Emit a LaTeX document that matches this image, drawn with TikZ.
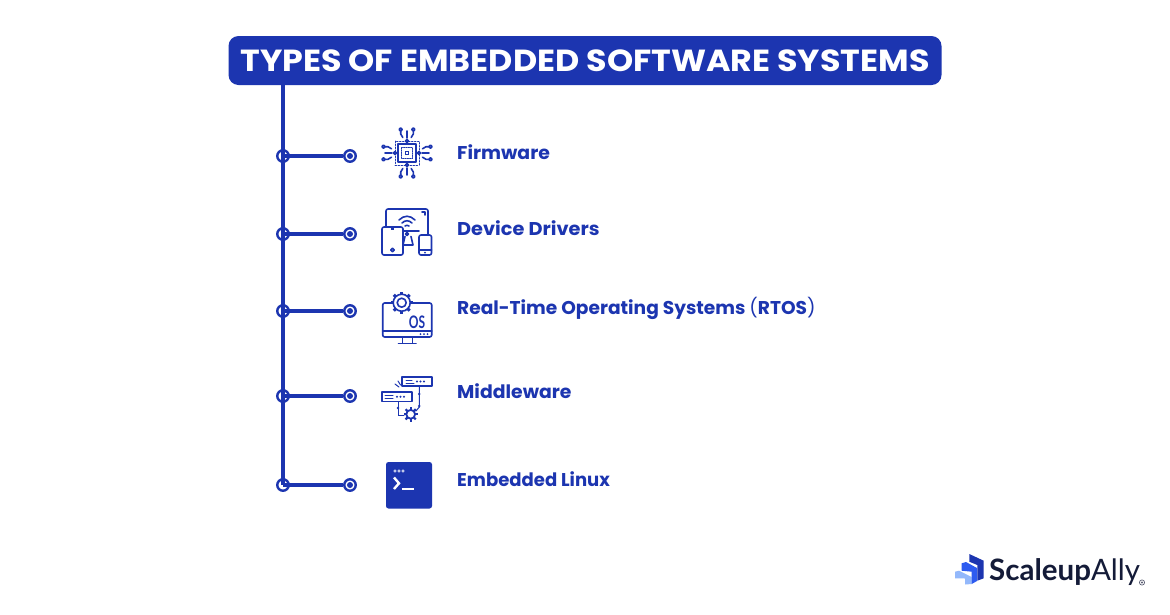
\documentclass[tikz,border=0pt]{standalone}
\usepackage{fontspec}
\usetikzlibrary{calc}
\setmainfont{Poppins}
\newfontfamily\logofont{Lato}
\definecolor{brand}{HTML}{1C35B0}
\definecolor{logodark}{HTML}{141B38}
\definecolor{logomid}{HTML}{2D5BF0}
\definecolor{logolight}{HTML}{93B8FB}
\tikzset{
  x=1pt,y=-1pt,
  titlebox/.style={fill=brand,rounded corners=10pt,minimum width=713pt,minimum height=49pt,inner sep=0pt,text=white,font=\fontsize{30.5}{32}\selectfont\bfseries},
  hub/.style={circle,draw=brand,line width=2.4pt,minimum size=11.5pt,inner sep=0pt},
  dot/.style={circle,fill=brand,minimum size=6pt,inner sep=0pt},
  wire/.style={draw=brand,line width=3.2pt},
  spine/.style={draw=brand,line width=3.4pt},
  item/.style={text=brand,anchor=base west,inner sep=0pt,font=\fontsize{18.5}{20}\selectfont\bfseries},
  ic/.style={draw=brand,line width=1.6pt,line cap=round,line join=round},
  icthin/.style={draw=brand,line width=1pt,line cap=round},
}
\begin{document}
\begin{tikzpicture}
\useasboundingbox (0,0) rectangle (1170,614);
\fill[white] (0,0) rectangle (1170,614);
\node[titlebox] (title) at (585,60.5) {\scalebox{1.092}[1]{TYPES OF EMBEDDED SOFTWARE SYSTEMS}};
% timeline
\foreach \n/\y in {a/156,b/234,c/311,d/396,e/485}{
  \node[hub] (h\n) at (283,\y) {};
  \node[hub] (t\n) at (350,\y) {};
  \node[dot] at (350,\y) {};
  \draw[wire] (h\n.center) -- (t\n);
}
\draw[spine] (title.south -| ha) -- (he.center);
% labels
\node[item] (la) at (457,159.3) {\scalebox{1.02}[1]{Firmware}};
\node[item] (lb) at (457,235.3) {\scalebox{1.044}[1]{Device Drivers}};
\node[item] (lc) at (457,314.8) {\scalebox{1.006}[1]{Real-Time Operating Systems {\mdseries(}RTOS{\mdseries)}}};
\node[item] (ld) at (457,398.3) {\scalebox{1.018}[1]{Middleware}};
\node[item] (le) at (457,486.5) {\scalebox{.975}[1]{Embedded Linux}};
% chip icon
\begin{scope}[shift={(407,153)}]
  \draw[ic] (-9,-9) rectangle (9,9);
  \draw[icthin,dash pattern=on 1.5pt off 1.5pt] (-12,-12) rectangle (12,12);
  \draw[icthin,dash pattern=on 1.2pt off 1.2pt] (-5.5,-5.5) rectangle (5.5,5.5);
  \fill[brand] (-2.2,-2.2) rectangle (2.2,2.2);
  \fill[white] (-.9,-.9) rectangle (.9,.9);
  \foreach \r in {0,90,180,270}{
    \begin{scope}[rotate=\r]
      \draw[ic] (0,-15) -- (0,-22);
      \draw[ic,fill=white] (0,-12) circle (1.6);
    \end{scope}
  }
  \foreach \s in {-1,1}{
    \draw[ic] (\s*6.3,-22) -- (\s*6.3,-19) -- (\s*4.2,-15.5);
    \draw[ic] (\s*6.3,22) -- (\s*6.3,19) -- (\s*4.2,15.5);
    \draw[ic] (22,\s*6.3) -- (19,\s*6.3) -- (15.5,\s*4.2);
    \draw[ic] (-22,\s*6.3) -- (-19,\s*6.3) -- (-15.5,\s*4.2);
    \draw[ic,fill=white] (\s*6.3,-23.5) circle (1.6);
    \draw[ic,fill=white] (\s*6.3,23.5) circle (1.6);
    \draw[ic,fill=white] (\s*23.5,-6.3) circle (1.6);
    \draw[ic,fill=white] (\s*23.5,6.3) circle (1.6);
  }
\end{scope}
% devices icon
\begin{scope}
  \draw[ic,rounded corners=2pt] (386,232) -- (386,209) -- (428,209) -- (428,234);
  \draw[ic] (403,231) -- (419,231);
  \draw[ic] (407,234) circle (1.6);
  \draw[ic] (405,236.5) -- (403,245) -- (413,245) -- (411,236.5);
  \draw[ic] (422,212) -- (425,212) -- (425,215);
  \draw[ic] (399,220) .. controls (404,215) and (410,215) .. (415,220);
  \draw[ic] (402,223) .. controls (405,220) and (409,220) .. (412,223);
  \draw[ic] (405,226) .. controls (406,225) and (408,225) .. (409,226);
  \draw[ic,fill=white,rounded corners=2pt] (382,227) rectangle (403,255);
  \fill[brand] (391,228) rectangle (394,230);
  \draw[ic] (392.5,250) circle (1.8);
  \draw[ic,fill=white,rounded corners=2pt] (419,235) rectangle (431.5,255);
  \draw[ic] (419,250) -- (431.5,250);
  \fill[brand] (425,252.5) circle (1);
\end{scope}
% OS icon
\begin{scope}
  \draw[ic,rounded corners=2pt] (391,303) -- (382.7,303) -- (382.7,337) -- (431.7,337) -- (431.7,303) -- (412,303);
  \draw[ic] (382.7,331) -- (431.7,331);
  \draw[ic] (402.5,337) -- (402.5,343) (412.5,337) -- (412.5,343);
  \draw[ic] (398.5,343.5) -- (416,343.5);
  \foreach \x in {420.5,424,427.5}{\fill[brand] (\x,334) circle (1);}
  \node[text=brand,inner sep=0pt,font=\fontsize{15}{15}\selectfont\bfseries\logofont] (osmark) at (417,322) {\scalebox{.8}[1.15]{OS}};
  \foreach \a in {0,45,...,315}{
    \draw[brand,line width=3pt] ($(401.7,302.7)+(\a:8)$) -- ($(401.7,302.7)+(\a:11.2)$);
  }
  \draw[ic,fill=white] (401.7,302.7) circle (8.5);
  \draw[ic] (401.7,302.7) circle (4.5);
\end{scope}
% middleware icon
\begin{scope}
  \draw[ic] (402,377) rectangle (432,386);
  \draw[ic] (382,392) rectangle (412,401.5);
  \draw[icthin] (406,380) -- (412,380) (406,383) -- (414,383);
  \draw[icthin] (385,395) -- (393,395) (385,398) -- (393,398);
  \foreach \x in {417,420.5,424}{\fill[brand] (\x,381.5) circle (1.2);}
  \foreach \x in {397,400.5,404}{\fill[brand] (\x,396.7) circle (1.2);}
  \draw[icthin] (395,384) -- (399,387) (398,381) -- (400.5,385);
  \draw[icthin] (419.3,386) -- (419.3,407) -- (416,411);
  \draw[icthin] (398,401.5) -- (398,415) -- (404,415);
  \fill[brand] (419.3,394) circle (1.4) (419.3,406) circle (1.4) (398,408) circle (1.4);
  \foreach \a in {0,45,...,315}{
    \draw[brand,line width=2.2pt] ($(410.7,414.3)+(\a:4.5)$) -- ($(410.7,414.3)+(\a:7.2)$);
  }
  \draw[ic,line width=1.8pt,fill=white] (410.7,414.3) circle (4.4);
\end{scope}
% terminal icon
\fill[brand,rounded corners=2.5pt] (386,462) rectangle (432,508.5);
\foreach \x in {395,399,403}{\draw[white,line width=.6pt] (\x,471) circle (1.3);}
\draw[white,line width=2.4pt,line join=miter] (394,477.5) -- (399,483.3) -- (394,489);
\draw[white,line width=2.4pt] (401.7,488.8) -- (414,488.8);
% logo
\fill[logolight] (955,571.7) -- (959,570.7) -- (971.7,577) -- (971.7,584) -- (965,584.5) -- (965,578.5) -- (955,578.3) -- cycle;
\fill[logomid] (961.7,563.3) -- (966,562) -- (977,568) -- (977,581) -- (971.7,584) -- (971.7,571.7) -- (961.7,570.7) -- cycle;
\fill[brand] (969.3,554) -- (983.7,560.7) -- (983.7,578.3) -- (977.3,580.7) -- (977.3,565) -- (969.3,561.7) -- cycle;
\node[anchor=base west,inner sep=0pt,text=logodark,font=\logofont\fontsize{29.5}{30}\selectfont] (logo) at (989,580) {\textbf{Scaleup}Ally};
\draw[logodark!70,line width=.7pt] (1142,582.5) circle (2.6);
\fill[logodark!70] (1142,582.5) circle (1.1);
\end{tikzpicture}
\end{document}
